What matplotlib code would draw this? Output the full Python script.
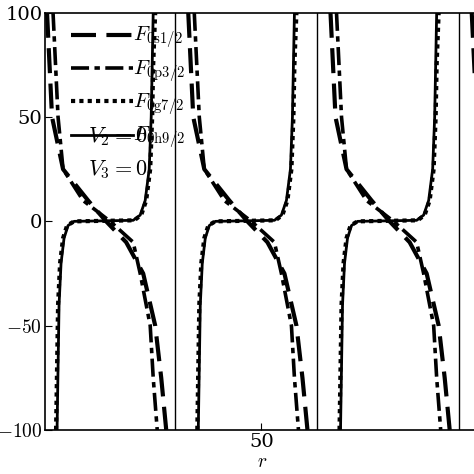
import numpy as np
import matplotlib.pyplot as plt

plt.rcParams['mathtext.fontset'] = 'cm'
plt.rcParams['font.family'] = 'serif'
plt.rcParams['font.serif'] = ['DejaVu Serif']

# period boundaries (r) and shape of one period (offset from boundary, value)
boundaries = [4.6, 32.8, 61.2, 89.4]

s_off = [2.6, 3.6, 5.8, 10.8, 14.4, 18.4, 21.8, 24.2, 25.4, 26.4]
s_val = [100, 50, 25, 10, 0, -10, -25, -50, -75, -100]
p_off = [3.8, 4.8, 5.8, 9.8, 15.2, 19.8, 21.2, 23.2, 23.8, 24.6]
p_val = [100, 50, 25, 10, 0, -10, -25, -50, -75, -100]
g_off = [4.4, 4.6, 4.8, 5.2, 5.8, 6.6, 8.0, 20.0, 21.4, 22.4, 23.2, 23.6, 23.8, 24.2]
g_val = [-100, -70, -40, -20, -8, -2, 0, 0.5, 3, 10, 25, 50, 75, 100]
h_off = [4.6, 4.8, 5.0, 5.4, 6.0, 6.8, 8.0, 19.8, 21.2, 22.2, 23.0, 23.4, 23.6, 23.8]
h_val = [-100, -70, -40, -20, -8, -2, 0, 0.5, 3, 10, 25, 50, 75, 100]

fig = plt.figure(figsize=(4.74, 4.74), dpi=100)
ax = fig.add_axes([0.095, 0.093, 0.915, 0.88])

styles = [
    (s_off, s_val, dict(ls=(0, (6, 2.5)), lw=3.0), r'$F_{\rm 0s1/2}$'),
    (p_off, p_val, dict(ls=(0, (5, 1.5, 1.5, 1.5)), lw=2.6), r'$F_{\rm 0p3/2}$'),
    (g_off, g_val, dict(ls=(0, (1, 1)), lw=3.0), r'$F_{\rm 0g7/2}$'),
    (h_off, h_val, dict(ls='-', lw=2.0), r'$F_{\rm 0h9/2}$'),
]
for off, val, kw, lab in styles:
    for i, b in enumerate(boundaries):
        ax.plot(b + np.array(off), val, color='black',
                label=lab if i == 0 else None, **kw)

for b in boundaries[1:]:
    ax.axvline(b, color='black', lw=1)

ax.set_xlim(5.4 + 7 / 5, 5.4 + 440 / 5)
ax.set_ylim(-100, 100)
ax.set_xticks([50])
ax.set_yticks([-100, -50, 0, 50, 100])
ax.set_yticklabels([r'$-100$', r'$-50$', '0', '50', '100'])
ax.tick_params(direction='in', labelsize=14, length=5, pad=2)
ax.set_xlabel(r'$r$', fontsize=14, labelpad=2)
for sp in ax.spines.values():
    sp.set_linewidth(1.2)

leg = ax.legend(loc='upper left', bbox_to_anchor=(0.04, 0.99), frameon=False,
                fontsize=15, handlelength=3.0, handletextpad=0.0,
                labelspacing=0.35, borderaxespad=0)
ax.text(0.10, 0.69, r'$V_2=0$', transform=ax.transAxes, fontsize=16)
ax.text(0.10, 0.61, r'$V_3=0$', transform=ax.transAxes, fontsize=16)

fig.savefig('out.png', dpi=100)
